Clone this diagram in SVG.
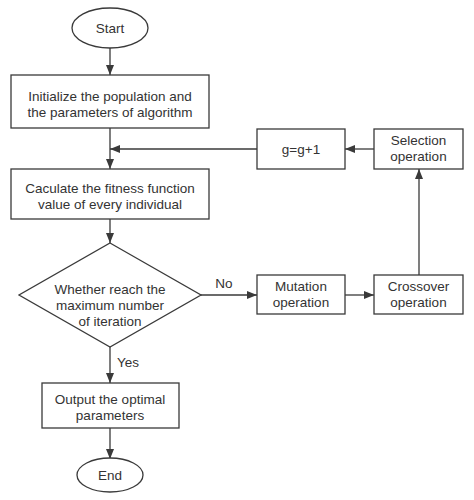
<svg xmlns="http://www.w3.org/2000/svg" width="474" height="500" viewBox="0 0 474 500">
<style>
.s{fill:#fff;stroke:#3a3a3a;stroke-width:1.3}
.c{fill:none;stroke:#3a3a3a;stroke-width:1.3}
text{font-family:"Liberation Sans",Arial,sans-serif;font-size:13.5px;fill:#333;text-anchor:middle}
</style>
<defs>
<marker id="a" viewBox="0 0 10 8" refX="10" refY="4" markerWidth="10" markerHeight="8" markerUnits="userSpaceOnUse" orient="auto">
<path d="M0,0L10,4L0,8z" fill="#3a3a3a"/>
</marker>
</defs>
<rect width="474" height="500" fill="#fff"/>
<g id="connectors">
<line class="c" x1="110" y1="48" x2="110" y2="75" marker-end="url(#a)"/>
<line class="c" x1="110" y1="128" x2="110" y2="169" marker-end="url(#a)"/>
<line class="c" x1="110" y1="219" x2="110" y2="243" marker-end="url(#a)"/>
<line class="c" x1="110" y1="347" x2="110" y2="383" marker-end="url(#a)"/>
<line class="c" x1="110" y1="428" x2="110" y2="459" marker-end="url(#a)"/>
<line class="c" x1="201" y1="295" x2="257" y2="295" marker-end="url(#a)"/>
<line class="c" x1="345" y1="295" x2="374" y2="295" marker-end="url(#a)"/>
<line class="c" x1="419" y1="275" x2="419" y2="169" marker-end="url(#a)"/>
<line class="c" x1="374" y1="149" x2="345" y2="149" marker-end="url(#a)"/>
<line class="c" x1="257" y1="149" x2="110" y2="149" marker-end="url(#a)"/>
<text x="224" y="288">No</text>
<text x="128" y="367">Yes</text>
</g>
<g id="start">
<ellipse class="s" cx="110" cy="28" rx="38" ry="20"/>
<text x="110" y="33">Start</text>
</g>
<g id="init">
<rect class="s" x="11" y="75" width="198" height="53"/>
<text x="110" y="101">Initialize the population and</text>
<text x="110" y="117">the parameters of algorithm</text>
</g>
<g id="calc">
<rect class="s" x="11" y="169" width="198" height="50"/>
<text x="110" y="193">Caculate the fitness function</text>
<text x="110" y="209">value of every individual</text>
</g>
<g id="decision">
<polygon class="s" points="110,243 201,295 110,347 19,295"/>
<text x="110" y="294">Whether reach the</text>
<text x="110" y="310">maximum number</text>
<text x="110" y="326">of iteration</text>
</g>
<g id="output">
<rect class="s" x="42" y="383" width="137" height="45"/>
<text x="110" y="404">Output the optimal</text>
<text x="110" y="420">parameters</text>
</g>
<g id="end">
<ellipse class="s" cx="110" cy="475" rx="33" ry="17"/>
<text x="110" y="480">End</text>
</g>
<g id="mutation">
<rect class="s" x="257" y="275" width="88" height="39"/>
<text x="301" y="291">Mutation</text>
<text x="301" y="307">operation</text>
</g>
<g id="crossover">
<rect class="s" x="374" y="275" width="89" height="39"/>
<text x="418.5" y="291">Crossover</text>
<text x="418.5" y="307">operation</text>
</g>
<g id="selection">
<rect class="s" x="374" y="129" width="89" height="40"/>
<text x="418.5" y="145">Selection</text>
<text x="418.5" y="161">operation</text>
</g>
<g id="increment">
<rect class="s" x="257" y="129" width="88" height="40"/>
<text x="301" y="154">g=g+1</text>
</g>
</svg>
